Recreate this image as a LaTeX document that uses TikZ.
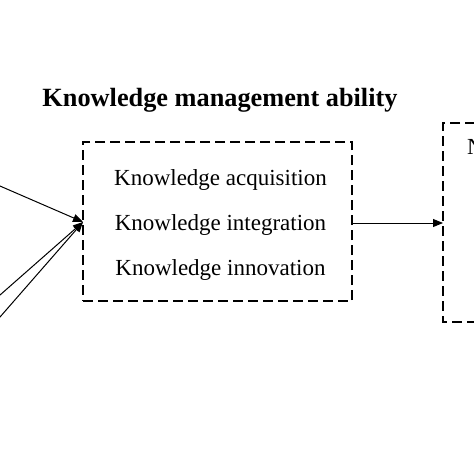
\documentclass[tikz,border=0pt]{standalone}
\usepackage{fontspec}
\setmainfont{Liberation Serif}
\usetikzlibrary{arrows.meta}
\begin{document}
\begin{tikzpicture}[x=1pt,y=-1pt,
  dbox/.style={draw,dashed,dash pattern=on 10pt off 5pt,line width=1.4pt,inner sep=0pt},
  lbl/.style={font=\fontsize{23}{28}\selectfont,inner sep=0pt,anchor=base},
  conn/.style={line width=1pt,-{Triangle[length=10pt,width=8pt]}}]
\useasboundingbox (0,0) rectangle (474,474);
\clip (0,0) rectangle (474,474);
\fill[white] (0,0) rectangle (474,474);
\node[lbl,font=\fontsize{26.3}{31}\selectfont\bfseries] (title) at (220,106) {Knowledge management ability};
\node[dbox,minimum width=269pt,minimum height=159pt] (mid) at (217.5,221.5) {};
\node[lbl] (t1) at (220.5,185) {Knowledge acquisition};
\node[lbl] (t2) at (220.5,230) {Knowledge integration};
\node[lbl] (t3) at (220.5,275) {Knowledge innovation};
\draw[dbox] (520,123) -- (443,123) -- (443,322) -- (520,322);
\coordinate (right) at (443,223);
\node[lbl,anchor=base west] (n) at (467,154) {N};
\coordinate (s1) at (-40,168.7);
\coordinate (s2) at (-40,330.2);
\coordinate (s3) at (-40,362.8);
\coordinate (hit) at (83,222);
\draw[conn] (s1) -- (hit);
\draw[conn] (s2) -- (hit);
\draw[conn] (s3) -- (hit);
\draw[conn] (mid.east |- right) -- (right);
\end{tikzpicture}
\end{document}
